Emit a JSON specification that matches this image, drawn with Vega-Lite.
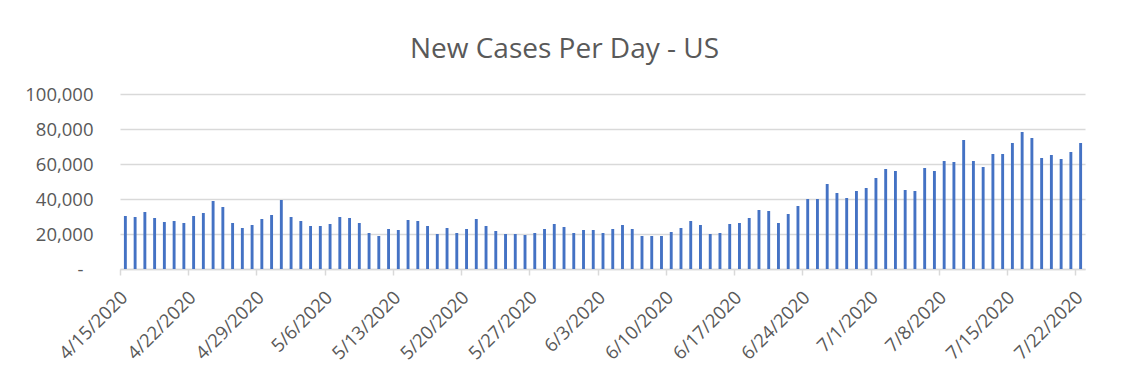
{
  "$schema": "https://vega.github.io/schema/vega-lite/v6.json",
  "width": 965,
  "height": 175,
  "autosize": "none",
  "padding": {"left": 120, "top": 94, "right": 50, "bottom": 120},
  "background": "white",
  "title": {
    "text": "New Cases Per Day - US",
    "font": "Open Sans",
    "fontSize": 28,
    "fontWeight": "normal",
    "color": "#595959",
    "anchor": "middle",
    "frame": "group",
    "dx": -38,
    "offset": 21
  },
  "data": {
    "values": [
      {"date": "2020-04-15", "cases": 30286},
      {"date": "2020-04-16", "cases": 29714},
      {"date": "2020-04-17", "cases": 32571},
      {"date": "2020-04-18", "cases": 29143},
      {"date": "2020-04-19", "cases": 26857},
      {"date": "2020-04-20", "cases": 27429},
      {"date": "2020-04-21", "cases": 26286},
      {"date": "2020-04-22", "cases": 30286},
      {"date": "2020-04-23", "cases": 32000},
      {"date": "2020-04-24", "cases": 38857},
      {"date": "2020-04-25", "cases": 35429},
      {"date": "2020-04-26", "cases": 26286},
      {"date": "2020-04-27", "cases": 23429},
      {"date": "2020-04-28", "cases": 25143},
      {"date": "2020-04-29", "cases": 28571},
      {"date": "2020-04-30", "cases": 30857},
      {"date": "2020-05-01", "cases": 39429},
      {"date": "2020-05-02", "cases": 29714},
      {"date": "2020-05-03", "cases": 27429},
      {"date": "2020-05-04", "cases": 24571},
      {"date": "2020-05-05", "cases": 24571},
      {"date": "2020-05-06", "cases": 25714},
      {"date": "2020-05-07", "cases": 29714},
      {"date": "2020-05-08", "cases": 29143},
      {"date": "2020-05-09", "cases": 26286},
      {"date": "2020-05-10", "cases": 20571},
      {"date": "2020-05-11", "cases": 18857},
      {"date": "2020-05-12", "cases": 22857},
      {"date": "2020-05-13", "cases": 22286},
      {"date": "2020-05-14", "cases": 28000},
      {"date": "2020-05-15", "cases": 27429},
      {"date": "2020-05-16", "cases": 24571},
      {"date": "2020-05-17", "cases": 20000},
      {"date": "2020-05-18", "cases": 23429},
      {"date": "2020-05-19", "cases": 20571},
      {"date": "2020-05-20", "cases": 22857},
      {"date": "2020-05-21", "cases": 28571},
      {"date": "2020-05-22", "cases": 24571},
      {"date": "2020-05-23", "cases": 21714},
      {"date": "2020-05-24", "cases": 20000},
      {"date": "2020-05-25", "cases": 20000},
      {"date": "2020-05-26", "cases": 19429},
      {"date": "2020-05-27", "cases": 20571},
      {"date": "2020-05-28", "cases": 22857},
      {"date": "2020-05-29", "cases": 25714},
      {"date": "2020-05-30", "cases": 24000},
      {"date": "2020-05-31", "cases": 20571},
      {"date": "2020-06-01", "cases": 22286},
      {"date": "2020-06-02", "cases": 22286},
      {"date": "2020-06-03", "cases": 20571},
      {"date": "2020-06-04", "cases": 22857},
      {"date": "2020-06-05", "cases": 25143},
      {"date": "2020-06-06", "cases": 22857},
      {"date": "2020-06-07", "cases": 18857},
      {"date": "2020-06-08", "cases": 18857},
      {"date": "2020-06-09", "cases": 18857},
      {"date": "2020-06-10", "cases": 21143},
      {"date": "2020-06-11", "cases": 23429},
      {"date": "2020-06-12", "cases": 27429},
      {"date": "2020-06-13", "cases": 25143},
      {"date": "2020-06-14", "cases": 20000},
      {"date": "2020-06-15", "cases": 20571},
      {"date": "2020-06-16", "cases": 25714},
      {"date": "2020-06-17", "cases": 26286},
      {"date": "2020-06-18", "cases": 29143},
      {"date": "2020-06-19", "cases": 33714},
      {"date": "2020-06-20", "cases": 33143},
      {"date": "2020-06-21", "cases": 26286},
      {"date": "2020-06-22", "cases": 31429},
      {"date": "2020-06-23", "cases": 36000},
      {"date": "2020-06-24", "cases": 40000},
      {"date": "2020-06-25", "cases": 40000},
      {"date": "2020-06-26", "cases": 48571},
      {"date": "2020-06-27", "cases": 43429},
      {"date": "2020-06-28", "cases": 40571},
      {"date": "2020-06-29", "cases": 44571},
      {"date": "2020-06-30", "cases": 46286},
      {"date": "2020-07-01", "cases": 52000},
      {"date": "2020-07-02", "cases": 57143},
      {"date": "2020-07-03", "cases": 56000},
      {"date": "2020-07-04", "cases": 45143},
      {"date": "2020-07-05", "cases": 44571},
      {"date": "2020-07-06", "cases": 57714},
      {"date": "2020-07-07", "cases": 56000},
      {"date": "2020-07-08", "cases": 61714},
      {"date": "2020-07-09", "cases": 61143},
      {"date": "2020-07-10", "cases": 73714},
      {"date": "2020-07-11", "cases": 61714},
      {"date": "2020-07-12", "cases": 58286},
      {"date": "2020-07-13", "cases": 65714},
      {"date": "2020-07-14", "cases": 65714},
      {"date": "2020-07-15", "cases": 72000},
      {"date": "2020-07-16", "cases": 78286},
      {"date": "2020-07-17", "cases": 74857},
      {"date": "2020-07-18", "cases": 63429},
      {"date": "2020-07-19", "cases": 65143},
      {"date": "2020-07-20", "cases": 62857},
      {"date": "2020-07-21", "cases": 66857},
      {"date": "2020-07-22", "cases": 72000}
    ]
  },
  "mark": {"type": "bar", "color": "#4472C4", "width": {"band": 0.4}},
  "encoding": {
    "x": {
      "field": "date",
      "timeUnit": "utcyearmonthdate",
      "type": "temporal",
      "title": null,
      "scale": {
        "type": "utc",
        "domain": [
          {"year": 2020, "month": 4, "date": 15, "utc": true},
          {"year": 2020, "month": 7, "date": 23, "utc": true}
        ],
        "nice": false
      },
      "axis": {
        "values": [
          {"year": 2020, "month": 4, "date": 15, "utc": true},
          {"year": 2020, "month": 4, "date": 22, "utc": true},
          {"year": 2020, "month": 4, "date": 29, "utc": true},
          {"year": 2020, "month": 5, "date": 6, "utc": true},
          {"year": 2020, "month": 5, "date": 13, "utc": true},
          {"year": 2020, "month": 5, "date": 20, "utc": true},
          {"year": 2020, "month": 5, "date": 27, "utc": true},
          {"year": 2020, "month": 6, "date": 3, "utc": true},
          {"year": 2020, "month": 6, "date": 10, "utc": true},
          {"year": 2020, "month": 6, "date": 17, "utc": true},
          {"year": 2020, "month": 6, "date": 24, "utc": true},
          {"year": 2020, "month": 7, "date": 1, "utc": true},
          {"year": 2020, "month": 7, "date": 8, "utc": true},
          {"year": 2020, "month": 7, "date": 15, "utc": true},
          {"year": 2020, "month": 7, "date": 22, "utc": true}
        ],
        "labelExpr": "utcFormat(datum.value, '%-m/%-d/%Y')",
        "labelAngle": -45,
        "labelAlign": "right",
        "labelBaseline": "middle",
        "labelFont": "Open Sans",
        "labelFontSize": 18.5,
        "labelColor": "#595959",
        "labelPadding": 19,
        "labelOffset": 4,
        "labelOverlap": false,
        "labelFlush": false,
        "grid": false,
        "domainColor": "#d9d9d9",
        "domainWidth": 1.5,
        "tickColor": "#d9d9d9",
        "tickWidth": 1.5,
        "tickSize": 6
      }
    },
    "y": {
      "field": "cases",
      "type": "quantitative",
      "title": null,
      "scale": {"domain": [0, 100000], "nice": false},
      "axis": {
        "values": [0, 20000, 40000, 60000, 80000, 100000],
        "labelExpr": "datum.value == 0 ? '-' : format(datum.value, ',')",
        "labelFont": "Open Sans",
        "labelFontSize": 18.5,
        "labelColor": "#595959",
        "labelPadding": {"condition": {"test": "datum.value == 0", "value": 37}, "value": 27},
        "domain": false,
        "ticks": false,
        "gridColor": "#d9d9d9",
        "gridWidth": 1.5
      }
    }
  },
  "config": {
    "view": {"stroke": null}
  }
}
